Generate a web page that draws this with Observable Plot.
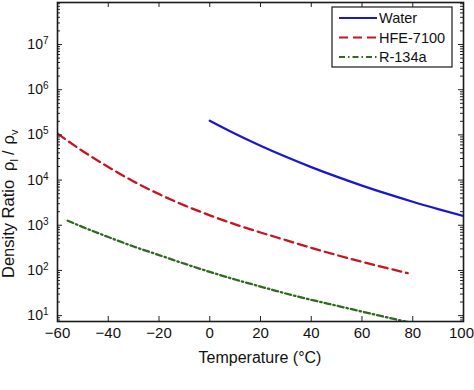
<!DOCTYPE html>
<html><head><meta charset="utf-8">
<script src="https://cdn.jsdelivr.net/npm/d3@7"></script>
<script src="https://cdn.jsdelivr.net/npm/@observablehq/plot@0.6"></script>
<style>
html,body{margin:0;padding:0;background:#fff;}
#chart{width:474px;height:390px;overflow:hidden;position:relative;}
</style></head><body><div id="chart"></div>
<script>
// ---- data ----
const seriesNames = ["Water", "HFE-7100", "R-134a"];
const seriesColors = ["#1818d4", "#c8141e", "#2f6a1f"];
const seriesDash = [null, "9,5", "6,3,1.5,3"];

const waterT = [0, 10, 20, 30, 40, 50, 60, 70, 80, 90, 100];
const waterRatio = [206000, 106000, 57700, 32800, 19400, 11900, 7550, 4930, 3310, 2280, 1600];

const hfeT = [-60, -50, -40, -30, -20, -10, 0, 10, 20, 30, 40, 50, 60, 70, 78];
const hfeRatio = [107000, 43600, 19500, 9330, 4900, 2750, 1660, 1050, 692, 468, 316, 219, 155, 112, 87];

const r134aT = [-56, -50, -40, -30, -20, -10, 0, 10, 20, 30, 40, 50, 60, 70, 80];
const r134aRatio = [1260, 912, 550, 339, 219, 141, 93, 63, 44, 30.9, 22.4, 16.6, 12.3, 9.1, 6.8];

const xTicks = [-60, -40, -20, 0, 20, 40, 60, 80, 100];
const yMajorTicks = [1e1, 1e2, 1e3, 1e4, 1e5, 1e6, 1e7];
const minorMultipliers = [2, 3, 4, 5, 6, 7, 8, 9];

const xLabel = "Temperature (°C)";

// ---- layout ----
const W = 474, H = 390;
const mL = 57, mR = 11, mT = 2, mB = 69;
const plotW = W - mL - mR, plotH = H - mT - mB;
const yDomain = [Math.pow(10, 0.87), Math.pow(10, 7.93)];

const toRows = (ts, rs) => ts.map((t, i) => ({t, r: rs[i]}));
const seriesRows = [toRows(waterT, waterRatio), toRows(hfeT, hfeRatio), toRows(r134aT, r134aRatio)];

const yMinorTicks = [1, ...yMajorTicks].flatMap(m => minorMultipliers.map(k => m * k))
  .filter(v => v > yDomain[0] && v < yDomain[1]);

const lineMarks = seriesRows.map((rows, i) => Plot.line(rows, {
  x: "t", y: "r", stroke: seriesColors[i], strokeWidth: 2.3, curve: "monotone-x",
  strokeDasharray: seriesDash[i] || undefined, clip: true
}));

const tickColor = "#222";
const chart = Plot.plot({
  width: W, height: H,
  marginLeft: mL, marginRight: mR, marginTop: mT, marginBottom: mB,
  style: {fontFamily: "'Liberation Sans', Arial, sans-serif", fontSize: "15px", color: "#111", background: "#fff"},
  x: {domain: [-60, 100]},
  y: {type: "log", domain: yDomain},
  marks: [
    ...lineMarks,
    Plot.tickX(xTicks, {x: d => d, insetTop: plotH - 5, stroke: tickColor}),
    Plot.tickX(xTicks, {x: d => d, insetBottom: plotH - 5, stroke: tickColor}),
    Plot.tickY(yMajorTicks, {y: d => d, insetRight: plotW - 5, stroke: tickColor}),
    Plot.tickY(yMajorTicks, {y: d => d, insetLeft: plotW - 5, stroke: tickColor}),
    Plot.tickY(yMinorTicks, {y: d => d, insetRight: plotW - 3, stroke: tickColor}),
    Plot.tickY(yMinorTicks, {y: d => d, insetLeft: plotW - 3, stroke: tickColor}),
    Plot.axisX(xTicks, {tickSize: 0, tickPadding: 6, fontSize: 15, label: null}),
    Plot.axisY(yMajorTicks, {tickSize: 0, tickPadding: 9, fontSize: 14, label: null,
      tickFormat: d => "10^" + Math.round(Math.log10(d))}),
    Plot.frame({stroke: "#1a1a1a", strokeWidth: 1.6})
  ]
});
document.getElementById("chart").appendChild(chart);

const svg = d3.select(chart);
// superscripts on y tick labels
svg.selectAll('g[aria-label="y-axis tick label"] text').each(function () {
  const s = this.textContent;
  const parts = s.split("^");
  const t = d3.select(this);
  t.text(parts[0]);
  t.append("tspan").attr("dy", "-5").attr("font-size", "10px").text(parts[1]);
});
// keep the last x tick label inside the picture
const xLabels = svg.selectAll('g[aria-label="x-axis tick label"] text').nodes();
if (xLabels.length) d3.select(xLabels[xLabels.length - 1]).attr("dx", -2);

const font = "'Liberation Sans', Arial, sans-serif";
// x label
svg.append("text").attr("x", (mL + W - mR) / 2).attr("y", 363)
  .attr("text-anchor", "middle").attr("font-family", font).attr("font-size", "16px")
  .attr("fill", "#111").text(xLabel);

// y label with subscripts
const yl = svg.append("text").attr("transform", "translate(14,278) rotate(-90)")
  .attr("text-anchor", "start").attr("font-family", font).attr("font-size", "16.5px").attr("fill", "#111");
yl.append("tspan").text("Density Ratio");
yl.append("tspan").attr("dx", "9").text("ρ");
yl.append("tspan").attr("dy", "4").attr("font-size", "11px").text("l");
yl.append("tspan").attr("dy", "-4").attr("dx", "4").text("/");
yl.append("tspan").attr("dx", "6").text("ρ");
yl.append("tspan").attr("dy", "4").attr("font-size", "11px").text("v");

// legend
const lg = svg.append("g").attr("font-family", font).attr("font-size", "14.5px").attr("text-anchor", "start");
lg.append("rect").attr("x", 332).attr("y", 7).attr("width", 120).attr("height", 60)
  .attr("fill", "#fff").attr("stroke", "#1a1a1a").attr("stroke-width", 1.2);
seriesNames.forEach((name, i) => {
  const yy = 18 + i * 19.5;
  lg.append("line").attr("x1", 339).attr("x2", 377).attr("y1", yy).attr("y2", yy)
    .attr("stroke", seriesColors[i]).attr("stroke-width", 2.2)
    .attr("stroke-dasharray", seriesDash[i] || null);
  lg.append("text").attr("x", 379).attr("y", yy).attr("dy", "0.36em")
    .attr("text-anchor", "start").attr("fill", "#111").text(name);
});
</script>
</body></html>
